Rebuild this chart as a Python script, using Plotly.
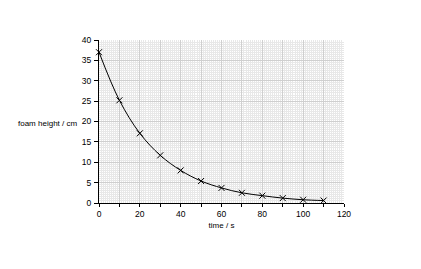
import plotly.graph_objects as go

time_s = [0, 10, 20, 30, 40, 50, 60, 70, 80, 90, 100, 110]
foam_cm = [37.0, 25.2, 17.1, 11.7, 8.0, 5.4, 3.7, 2.5, 1.8, 1.2, 0.8, 0.6]
x_tickvals = [0, 10, 20, 30, 40, 50, 60, 70, 80, 90, 100, 110, 120]
x_ticktext = ["0", "", "20", "", "40", "", "60", "", "80", "", "100", "", "120"]

fig = go.Figure()
fig.add_trace(go.Scatter(
    x=time_s, y=foam_cm, mode="lines+markers",
    line=dict(color="black", width=1, shape="spline", smoothing=1.0),
    marker=dict(symbol="x-thin", size=6, line=dict(color="black", width=1)),
    showlegend=False, cliponaxis=False,
))

font = dict(family="Liberation Sans, Arial, sans-serif", size=8.5, color="black")
label_font = dict(family="Liberation Sans, Arial, sans-serif", size=8, color="black")
fig.update_layout(
    width=421, height=269,
    margin=dict(l=99, r=77, t=40, b=66),
    paper_bgcolor="white", plot_bgcolor="white",
    font=font,
    xaxis=dict(
        range=[0, 120], tickvals=x_tickvals, ticktext=x_ticktext,
        showline=True, linecolor="black", linewidth=1,
        ticks="outside", ticklen=3, tickcolor="black",
        ticklabelstandoff=0,
        showgrid=True, gridcolor="#cfcfcf", gridwidth=1,
        minor=dict(dtick=1, showgrid=True, gridcolor="#e8e8e8", ticks=""),
        zeroline=False,
        title=dict(text="time / s", font=label_font, standoff=4),
    ),
    yaxis=dict(
        range=[0, 40], dtick=5, tick0=0,
        showline=True, linecolor="black", linewidth=1,
        ticks="outside", ticklen=4, tickcolor="black",
        ticklabelstandoff=1,
        showgrid=True, gridcolor="#cfcfcf", gridwidth=1,
        minor=dict(dtick=0.5, showgrid=True, gridcolor="#e8e8e8", ticks=""),
        zeroline=False,
    ),
    annotations=[dict(
        text="foam height / cm", xref="paper", yref="paper",
        x=-0.339, y=0.49, xanchor="left", yanchor="middle",
        showarrow=False, font=label_font,
    )],
)
fig.write_html("out.html")
